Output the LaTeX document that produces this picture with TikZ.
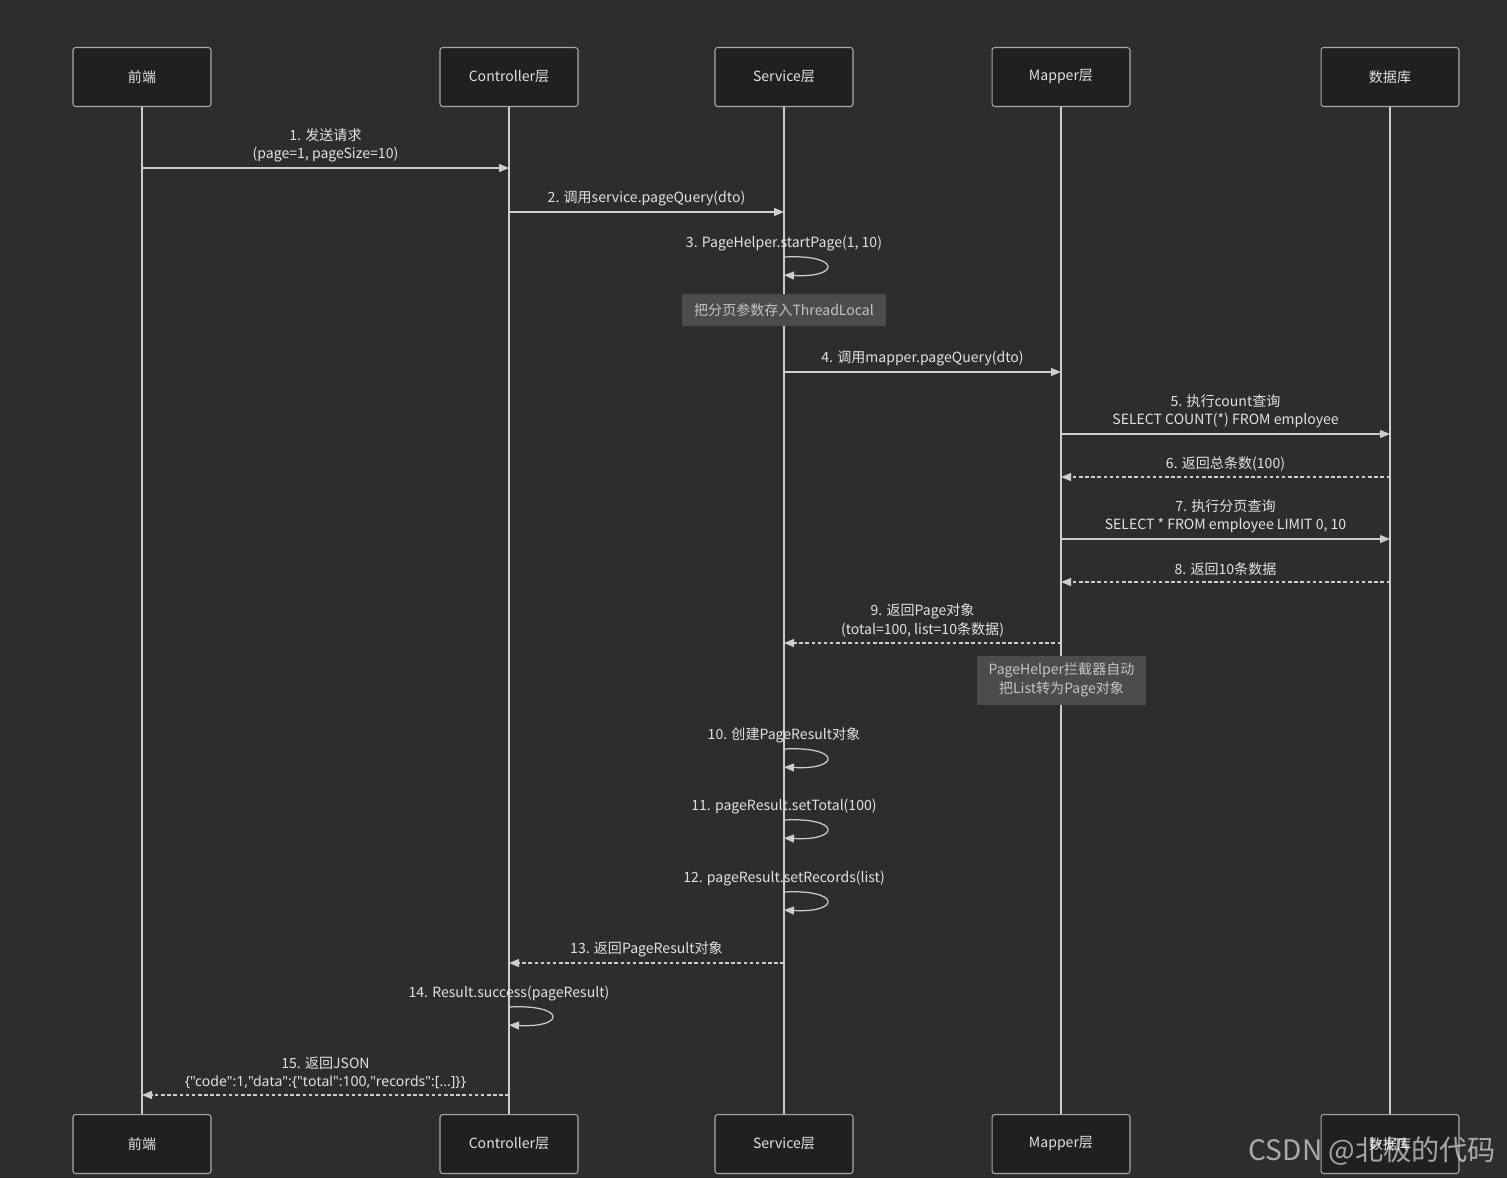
\documentclass[tikz,border=0pt]{standalone}
\usepackage{fontspec}
\setmainfont{Noto Sans CJK SC}
\newfontfamily\latin{Noto Sans}
\usetikzlibrary{arrows.meta,calc}

\definecolor{fondo}{HTML}{2D2D30}
\definecolor{caja}{HTML}{1F2020}
\definecolor{borde}{HTML}{A8A8A8}
\definecolor{linea}{HTML}{CDCDCD}
\definecolor{texto}{HTML}{E2E2E2}
\definecolor{notafondo}{HTML}{4B4C4D}
\definecolor{notatexto}{HTML}{C4C4C4}

\begin{document}
\begin{tikzpicture}[
        x=0.02cm, y=-0.02cm,
        every node/.style={font=\fontsize{8}{10.5}\selectfont, text=texto},
        actor/.style={draw=borde, fill=caja, rounded corners=1.5pt, line width=0.6pt,
            minimum width=2.76cm, minimum height=1.18cm},
        vida/.style={draw=linea, line width=0.8pt},
        msg/.style={draw=linea, line width=0.7pt, -{Triangle[length=0.2cm,width=0.16cm]}},
        resp/.style={msg, dash pattern=on 2pt off 1.5pt},
        etq/.style={above=1.5pt, align=center, inner sep=1.5pt},
        nota/.style={fill=notafondo, text=notatexto, align=center, inner xsep=0.24cm}
    ]
        % Fondo y margenes
        \fill[fondo] (0,0) rectangle (1507,1178);
        \useasboundingbox (0,0) rectangle (1507,1178);

        % Participantes arriba
        \node[actor] (fe) at (142,77) {前端};
        \node[actor] (ct) at (509,77) {Controller层};
        \node[actor] (sv) at (784,77) {Service层};
        \node[actor] (mp) at (1061,77) {Mapper层};
        \node[actor] (db) at (1390,77) {数据库};

        % Participantes abajo
        \node[actor] (fe2) at (142,1144) {前端};
        \node[actor] (ct2) at (509,1144) {Controller层};
        \node[actor] (sv2) at (784,1144) {Service层};
        \node[actor] (mp2) at (1061,1144) {Mapper层};
        \node[actor] (db2) at (1390,1144) {数据库};

        % Lineas de vida
        \foreach \a in {fe,ct,sv,mp,db}
            \draw[vida] (\a.south) -- (\a2.north);

        % Filas de los mensajes
        \foreach \n/\y in {r1/168, r2/212, b3/257, r4/372, r5/434, r6/477, r7/539, r8/582,
                r9/643, b10/749, b11/820, b12/892, r13/963, b14/1007, r15/1095}
            \coordinate (\n) at (0,\y);

        % Mensajes
        \draw[msg] (fe |- r1) -- node[etq] (l1) {1. 发送请求\\(page=1, pageSize=10)} (ct |- r1);
        \draw[msg] (ct |- r2) -- node[etq] (l2) {2. 调用service.pageQuery(dto)} (sv |- r2);
        \draw[msg] (sv |- r4) -- node[etq] (l4) {4. 调用mapper.pageQuery(dto)} (mp |- r4);
        \draw[msg] (mp |- r5) -- node[etq] (l5) {5. 执行count查询\\SELECT COUNT(*) FROM employee} (db |- r5);
        \draw[resp] (db |- r6) -- node[etq] (l6) {6. 返回总条数(100)} (mp |- r6);
        \draw[msg] (mp |- r7) -- node[etq] (l7) {7. 执行分页查询\\SELECT * FROM employee LIMIT 0, 10} (db |- r7);
        \draw[resp] (db |- r8) -- node[etq] (l8) {8. 返回10条数据} (mp |- r8);
        \draw[resp] (mp |- r9) -- node[etq] (l9) {9. 返回Page对象\\(total=100, list=10条数据)} (sv |- r9);
        \draw[resp] (sv |- r13) -- node[etq] (l13) {13. 返回PageResult对象} (ct |- r13);
        \draw[resp] (ct |- r15) -- node[etq] (l15) {15. 返回JSON\\{\latin\{"code":1,"data":\{"total":100,"records":[...]\}\}}} (fe |- r15);

        % Llamadas a si mismo
        \foreach \v/\r in {sv/b3, sv/b10, sv/b11, sv/b12, ct/b14}
            \draw[msg] (\v |- \r) .. controls ($(\v |- \r)+(57,-3)$) and ($(\v |- \r)+(57,21)$) .. ($(\v |- \r)+(0,18)$);
        \node[etq] (l3) at (sv |- b3) {3. PageHelper.startPage(1, 10)};
        \node[etq] (l10) at (sv |- b10) {10. 创建PageResult对象};
        \node[etq] (l11) at (sv |- b11) {11. pageResult.setTotal(100)};
        \node[etq] (l12) at (sv |- b12) {12. pageResult.setRecords(list)};
        \node[etq] (l14) at (ct |- b14) {14. Result.success(pageResult)};

        % Notas
        \node[nota, minimum height=0.64cm] (n1) at (784,310) {把分页参数存入ThreadLocal};
        \node[nota, minimum height=0.98cm] (n2) at (1061.5,680) {PageHelper拦截器自动\\把List转为Page对象};

        % Marca de agua
        \node[text=white, opacity=0.6, font=\fontsize{16}{18}\selectfont, anchor=east] (marca) at (1502,1151) {CSDN @北极的代码};
    \end{tikzpicture}
\end{document}
